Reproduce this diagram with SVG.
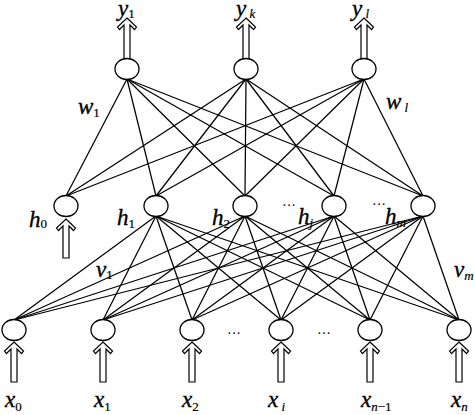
<svg xmlns="http://www.w3.org/2000/svg" width="474" height="415" viewBox="0 0 474 415">
<style>
.n{fill:#fff;stroke:#000;stroke-width:1.3}
.a{fill:#fff;stroke:#000;stroke-width:1.2;stroke-linejoin:miter}
.c line{stroke:#000;stroke-width:1.25}
.t{font-family:"Liberation Serif",serif;font-style:italic;font-size:23px;fill:#000;stroke:#000;stroke-width:0.35}
.s{font-size:13px;stroke-width:0.2}
.u{font-style:normal}
.d{font-family:"Liberation Serif",serif;font-size:14px;fill:#000}
</style>
<rect width="474" height="415" fill="#fff"/>
<g id="labels">
<text class="t" x="78" y="114">w<tspan class="s u" dy="3">1</tspan></text>
<text class="t" x="386" y="109">w<tspan class="s" dy="3"> l</tspan></text>
<text class="t" x="29" y="227">h<tspan class="s u" dy="1">0</tspan></text>
<text class="t" x="117" y="225">h<tspan class="s u" dy="3">1</tspan></text>
<text class="t" x="212" y="225">h<tspan class="s u" dy="3">2</tspan></text>
<text class="t" x="298" y="224">h<tspan class="s" dy="3">j</tspan></text>
<text class="t" x="385" y="224">h<tspan class="s" dy="3">m</tspan></text>
<text class="t" x="96" y="277">v<tspan class="s u" dy="2">1</tspan></text>
<text class="t" x="454" y="277">v<tspan class="s" dy="3">m</tspan></text>
<text class="d" x="282" y="210">···</text>
<text class="d" x="372" y="209">···</text>
<text class="d" x="227" y="338">···</text>
<text class="d" x="317" y="338">···</text>
</g>
<g id="connectors" class="c">
<line x1="127" y1="79" x2="66" y2="196"/><line x1="127" y1="79" x2="156" y2="196"/><line x1="127" y1="79" x2="245" y2="196"/><line x1="127" y1="79" x2="334" y2="196"/><line x1="127" y1="79" x2="423" y2="196"/>
<line x1="246" y1="79" x2="66" y2="196"/><line x1="246" y1="79" x2="156" y2="196"/><line x1="246" y1="79" x2="245" y2="196"/><line x1="246" y1="79" x2="334" y2="196"/><line x1="246" y1="79" x2="423" y2="196"/>
<line x1="364" y1="79" x2="66" y2="196"/><line x1="364" y1="79" x2="156" y2="196"/><line x1="364" y1="79" x2="245" y2="196"/><line x1="364" y1="79" x2="334" y2="196"/><line x1="364" y1="79" x2="423" y2="196"/>
<line x1="156" y1="216" x2="14" y2="320"/><line x1="156" y1="216" x2="103" y2="320"/><line x1="156" y1="216" x2="192" y2="320"/><line x1="156" y1="216" x2="281" y2="320"/><line x1="156" y1="216" x2="370" y2="320"/><line x1="156" y1="216" x2="459" y2="320"/>
<line x1="245" y1="216" x2="14" y2="320"/><line x1="245" y1="216" x2="103" y2="320"/><line x1="245" y1="216" x2="192" y2="320"/><line x1="245" y1="216" x2="281" y2="320"/><line x1="245" y1="216" x2="370" y2="320"/><line x1="245" y1="216" x2="459" y2="320"/>
<line x1="334" y1="216" x2="14" y2="320"/><line x1="334" y1="216" x2="103" y2="320"/><line x1="334" y1="216" x2="192" y2="320"/><line x1="334" y1="216" x2="281" y2="320"/><line x1="334" y1="216" x2="370" y2="320"/><line x1="334" y1="216" x2="459" y2="320"/>
<line x1="423" y1="216" x2="14" y2="320"/><line x1="423" y1="216" x2="103" y2="320"/><line x1="423" y1="216" x2="192" y2="320"/><line x1="423" y1="216" x2="281" y2="320"/><line x1="423" y1="216" x2="370" y2="320"/><line x1="423" y1="216" x2="459" y2="320"/>
</g>
<g id="y1">
<polygon class="a" points="127,18 136.5,27 134.5,29.5 130,25 130,59 124,59 124,25 119.5,29.5 117.5,27"/>
<ellipse class="n" cx="127" cy="69" rx="12" ry="10.5"/>
<text class="t" x="118" y="16" font-size="22">y<tspan class="s u" dy="2">1</tspan></text>
</g>
<g id="yk">
<polygon class="a" points="246,18 255.5,27 253.5,29.5 249,25 249,59 243,59 243,25 238.5,29.5 236.5,27"/>
<ellipse class="n" cx="246" cy="69" rx="12" ry="10.5"/>
<text class="t" x="236" y="16" font-size="22">y<tspan class="s" dy="2"> k</tspan></text>
</g>
<g id="yl">
<polygon class="a" points="364,18 373.5,27 371.5,29.5 367,25 367,59 361,59 361,25 356.5,29.5 354.5,27"/>
<ellipse class="n" cx="364" cy="69" rx="12" ry="10.5"/>
<text class="t" x="352" y="16" font-size="22">y<tspan class="s" dy="2"> l</tspan></text>
</g>
<g id="h0">
<polygon class="a" points="66,219 75.5,228 73.5,230.5 69,226 69,258 63,258 63,226 58.5,230.5 56.5,228"/>
<ellipse class="n" cx="66" cy="206" rx="12" ry="10.5"/>
</g>
<g id="h1"><ellipse class="n" cx="156" cy="206" rx="12" ry="10.5"/></g>
<g id="h2"><ellipse class="n" cx="245" cy="206" rx="12" ry="10.5"/></g>
<g id="hj"><ellipse class="n" cx="334" cy="206" rx="12" ry="10.5"/></g>
<g id="hm"><ellipse class="n" cx="423" cy="206" rx="12" ry="10.5"/></g>
<g id="x0">
<polygon class="a" points="14,342 23.5,351 21.5,353.5 17,349 17,382 11,382 11,349 6.5,353.5 4.5,351"/>
<ellipse class="n" cx="14" cy="330" rx="12" ry="10.5"/>
<text class="t" x="5" y="407">x<tspan class="s u" dy="4">0</tspan></text>
</g>
<g id="x1">
<polygon class="a" points="103,342 112.5,351 110.5,353.5 106,349 106,382 100,382 100,349 95.5,353.5 93.5,351"/>
<ellipse class="n" cx="103" cy="330" rx="12" ry="10.5"/>
<text class="t" x="94" y="407">x<tspan class="s u" dy="4">1</tspan></text>
</g>
<g id="x2">
<polygon class="a" points="192,342 201.5,351 199.5,353.5 195,349 195,382 189,382 189,349 184.5,353.5 182.5,351"/>
<ellipse class="n" cx="192" cy="330" rx="12" ry="10.5"/>
<text class="t" x="182" y="407">x<tspan class="s u" dy="4">2</tspan></text>
</g>
<g id="xi">
<polygon class="a" points="281,342 290.5,351 288.5,353.5 284,349 284,382 278,382 278,349 273.5,353.5 271.5,351"/>
<ellipse class="n" cx="281" cy="330" rx="12" ry="10.5"/>
<text class="t" x="268" y="407">x<tspan class="s" dy="4"> i</tspan></text>
</g>
<g id="xn-1">
<polygon class="a" points="370,342 379.5,351 377.5,353.5 373,349 373,382 367,382 367,349 362.5,353.5 360.5,351"/>
<ellipse class="n" cx="370" cy="330" rx="12" ry="10.5"/>
<text class="t" x="361" y="407">x<tspan class="s" dy="4">n<tspan class="u">−1</tspan></tspan></text>
</g>
<g id="xn">
<polygon class="a" points="459,342 468.5,351 466.5,353.5 462,349 462,382 456,382 456,349 451.5,353.5 449.5,351"/>
<ellipse class="n" cx="459" cy="330" rx="12" ry="10.5"/>
<text class="t" x="451" y="407">x<tspan class="s" dy="4">n</tspan></text>
</g>
</svg>
